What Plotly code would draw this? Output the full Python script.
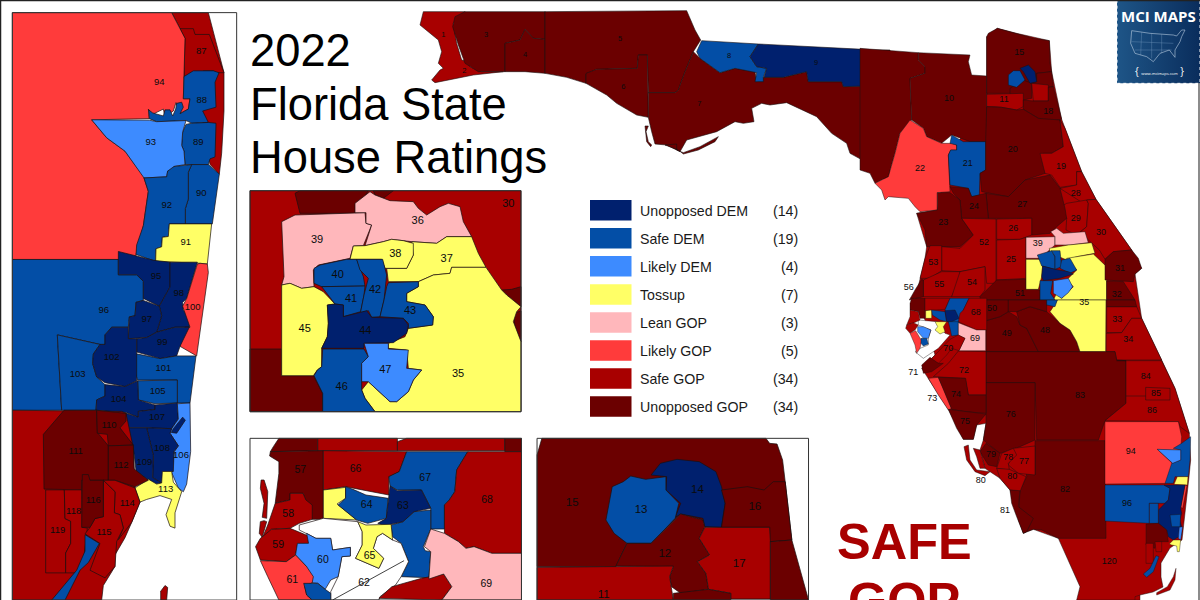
# 2022 Florida State House ratings map, outlines
import plotly.graph_objects as go

RATING_NAMES = ["Unopposed DEM", "Safe DEM", "Likely DEM", "Tossup", "Lean GOP", "Likely GOP", "Safe GOP", "Unopposed GOP"]
RATING_COUNTS = ["(14)", "(19)", "(4)", "(7)", "(3)", "(5)", "(34)", "(34)"]
RATING_KEYS = ["UD", "SD", "LD", "TU", "LN", "LG", "SG", "UG"]
RATING_COLORS = ["#00206e", "#034ea6", "#3d8bff", "#ffff66", "#ffb7bb", "#ff3b3b", "#a80000", "#6b0000"]
COLORS = dict(zip(RATING_KEYS, RATING_COLORS))
COLORS["WH"] = "#ffffff"

TITLE_LINES = ["2022", "Florida State", "House Ratings"]
CALLOUT_LINES = ["SAFE", "GOP"]

# each region is digitised in its own crop, (origin x, origin y, scale x, scale y)
LEFT_CROP = (0, 0, 3, 2.613)
ORLANDO_CROP = (240, 180, 3, 3)
LOWER_CROP = (240, 430, 2.7, 3)
PANHANDLE_CROP = (410, 0, 3, 3)
NORTH_CROP = (860, 0, 3, 3)
SOUTH_CROP = (820, 300, 3, 3)
TAMPA_CROP = (895, 270, 3, 3)
MIAMI_CROP = (1090, 420, 3, 3)
LOGO_CROP = (1110, 0, 3, 3)

LEFT_FRAME = "37,33 710,33 710,1568 37,1568"
LEFT_POLYS = [
    ("SG", "515,33 625,33 672,190 672,290 665,400 658,455 630,430 605,300 550,200 555,100"),
    ("SG", "555,100 540,75 580,75 585,90 628,90 655,150 672,190 650,190 640,185 610,185 600,195 595,220 580,205 552,200"),
    ("LG", "37,33 515,33 555,100 552,200 550,258 570,258 565,285 540,297 528,268 520,290 495,305 490,285 455,300 445,285 448,310 275,313 320,360 375,395 430,460 445,500 430,590 408,665 408,678 37,678"),
    ("SD", "552,200 580,185 640,185 657,190 645,215 648,280 608,290 625,320 575,322 558,315 470,318 448,310 446,287 458,295 490,303 495,287 510,287 518,303 527,285 530,270 545,267 550,280 540,297 565,285 570,258 550,258"),
    ("SD", "558,325 575,322 625,320 648,322 645,410 630,415 625,430 575,430 555,430 552,395 545,380 548,345"),
    ("LD", "275,313 448,314 470,318 558,315 548,345 545,380 552,395 555,430 522,435 520,445 503,447 500,462 432,465 375,395 320,360"),
    ("SD", "575,430 625,430 658,455 637,585 556,585 556,545 565,520 565,450"),
    ("SD", "432,465 500,462 503,447 522,435 575,430 565,450 565,520 556,545 556,585 508,585 505,618 487,620 485,645 468,650 467,683 408,665 410,640 430,590 445,500"),
    ("TU", "508,585 635,585 622,690 600,688 467,683 468,650 485,645 487,620 505,618"),
    ("SD", "37,678 355,678 355,718 410,718 430,735 430,785 408,790 405,825 388,828 385,855 335,855 315,875 315,900 300,900 172,875 185,1072 37,1072"),
    ("SD", "172,875 300,900 280,925 278,950 290,985 315,1005 315,1035 290,1045 288,1072 185,1072"),
    ("UD", "355,657 460,680 510,685 510,750 478,800 430,780 430,735 410,718 355,718"),
    ("UD", "510,685 592,685 560,780 548,790 550,810 570,835 568,855 525,855 470,868 485,825 478,800 510,750"),
    ("LG", "600,688 622,690 625,712 590,930 540,905 555,855 570,855 548,800 560,780 592,690"),
    ("UD", "408,790 430,785 478,800 485,825 470,868 440,882 385,885 388,828 405,825"),
    ("UD", "410,885 440,882 470,868 525,855 568,855 540,905 530,930 480,937 410,920"),
    ("SD", "395,922 480,937 530,930 588,930 570,1053 532,1053 532,993 413,993 395,950"),
    ("UD", "335,855 385,855 385,885 410,885 410,995 375,1010 315,1000 290,985 278,950 280,925 300,900 315,900 315,875"),
    ("SD", "413,995 532,993 532,1053 465,1055 415,1045"),
    ("UD", "315,1005 375,1010 413,995 415,1045 465,1058 465,1070 415,1075 415,1090 378,1078 288,1072 290,1045 315,1035"),
    ("UD", "378,1080 415,1090 415,1075 465,1070 465,1058 532,1053 535,1095 515,1120 440,1118 360,1118 378,1100"),
    ("LD", "532,1055 570,1053 572,1180 560,1265 550,1285 535,1275 515,1235 523,1180 535,1165 510,1132 515,1120 535,1095"),
    ("UD", "520,1120 548,1090 556,1098 530,1132 514,1130"),
    ("UD", "440,1118 515,1120 510,1132 535,1165 522,1180 520,1232 490,1233 485,1262 458,1248 460,1190"),
    ("UD", "360,1118 440,1118 460,1190 458,1248 485,1262 470,1265 445,1255 408,1230 400,1170"),
    ("SG", "37,1072 365,1075 378,1080 400,1170 405,1275 420,1312 395,1365 375,1405 345,1450 345,1480 310,1530 305,1568 37,1568"),
    ("TU", "405,1275 445,1252 470,1265 485,1262 487,1232 515,1232 520,1260 545,1285 525,1340 525,1380 510,1375 498,1345 515,1305 480,1295 440,1305 420,1312"),
    ("UG", "192,1072 290,1072 292,1130 325,1165 325,1255 245,1255 245,1280 132,1278 130,1135"),
    ("UG", "290,1072 378,1080 378,1100 360,1118 400,1163 325,1165 322,1135 292,1132"),
    ("UG", "325,1165 400,1163 402,1225 445,1255 405,1272 345,1255 325,1255"),
    ("SG", "137,1280 193,1280 195,1355 212,1362 212,1420 197,1445 197,1497 137,1497"),
    ("SG", "193,1280 245,1280 247,1378 262,1380 250,1470 235,1497 197,1497 197,1445 212,1420 212,1362 195,1355"),
    ("SG", "310,1255 345,1255 405,1275 420,1312 395,1365 355,1410 370,1380 360,1345 343,1340 345,1285"),
    ("SG", "285,1355 310,1350 310,1255 345,1285 343,1340 360,1345 370,1380 350,1415 345,1480 315,1510 270,1490 300,1420 255,1395 270,1378"),
    ("UG", "247,1240 265,1240 270,1255 310,1255 310,1350 285,1355 270,1378 245,1378"),
    ("SD", "255,1397 298,1420 265,1470 240,1490 195,1568 155,1568 230,1490 255,1440"),
    ("SG", "482,1545 495,1530 503,1535 500,1568 482,1568"),
]
LEFT_LABELS = [
    ("87", 604, 135), ("94", 478, 215), ("88", 605, 263), ("93", 452, 373), ("89", 595, 373), ("90", 604, 505),
    ("92", 500, 538), ("91", 557, 635), ("95", 468, 723), ("98", 536, 768), ("96", 311, 812), ("100", 578, 803),
    ("97", 440, 835), ("99", 487, 895), ("102", 335, 935), ("101", 490, 962), ("103", 233, 980), ("105", 473, 1023),
    ("104", 356, 1043), ("107", 471, 1092), ("110", 327, 1113), ("111", 227, 1180), ("108", 486, 1171), ("106", 543, 1190),
    ("109", 433, 1208), ("112", 363, 1216), ("113", 497, 1280), ("116", 280, 1308), ("114", 382, 1315), ("118", 221, 1337),
    ("119", 173, 1387), ("115", 312, 1392),
]

ORLANDO_FRAME = "30,32 843,32 843,695 30,695"
ORLANDO_POLYS = [
    ("SG", "30,32 843,32 843,695 30,695"),
    ("UG", "165,40 180,32 385,32 345,100 180,100"),
    ("UG", "400,32 460,32 430,55 405,45"),
    ("UG", "30,507 125,507 125,587 220,587 248,640 248,695 30,695"),
    ("UG", "785,330 815,328 843,320 843,380 800,345"),
    ("UG", "820,400 843,393 843,485 825,440"),
    ("LN", "125,125 165,105 375,98 378,130 395,135 370,197 340,198 330,235 235,255 220,270 222,320 185,325 150,310 125,315 132,290"),
    ("LN", "345,70 390,35 405,45 450,62 520,65 535,85 560,105 600,80 625,70 660,80 670,125 695,170 620,170 590,190 515,185 490,182 455,178 430,185 375,197 395,135 378,130 378,98 345,98"),
    ("TU", "515,185 590,190 620,170 695,170 715,220 738,262 635,262 630,280 580,285 535,305 445,305 440,265 500,265 520,225"),
    ("TU", "340,198 375,197 430,185 455,178 490,182 520,190 520,225 500,265 435,265 425,238 330,238"),
    ("TU", "635,262 738,262 785,330 800,345 843,380 830,395 820,425 843,485 843,695 405,695 375,655 365,630 385,605 450,665 470,665 505,635 520,600 545,570 505,565 500,510 445,505 445,490 495,470 505,445 578,435 580,410 555,375 500,365 500,340 535,320 535,305 580,285 630,280"),
    ("TU", "125,315 150,310 185,325 222,320 250,335 285,372 262,375 265,430 262,470 245,505 245,560 232,570 220,587 125,587"),
    ("SD", "222,265 240,255 320,238 350,238 370,290 375,318 245,320 222,310"),
    ("SD", "245,320 375,318 372,345 362,395 310,410 310,375 285,372"),
    ("SD", "350,238 428,238 440,285 432,360 420,410 395,412 385,392 365,397 362,395 372,345 385,295 360,270"),
    ("SD", "445,308 535,305 535,320 500,340 500,365 555,375 580,410 578,435 505,445 505,430 490,415 420,410 432,360 440,320"),
    ("UD", "262,375 285,372 310,375 310,410 362,397 380,392 395,412 490,415 505,435 500,460 460,488 372,490 372,505 245,505 262,470 265,430"),
    ("SD", "248,507 372,507 385,530 365,550 365,630 375,655 405,695 248,695 248,640 222,587 232,570 245,560"),
    ("LD", "372,490 445,490 445,507 505,510 500,565 545,570 520,600 505,635 470,665 450,665 385,605 365,605 365,550 385,530"),
]
ORLANDO_LABELS = [
    ("30", 805, 72), ("36", 533, 125), ("39", 231, 180), ("38", 466, 222), ("37", 620, 237), ("40", 293, 285),
    ("42", 405, 330), ("41", 333, 357), ("43", 510, 395), ("45", 194, 447), ("44", 376, 455), ("47", 436, 572),
    ("35", 654, 582), ("46", 305, 622),
]

PINELLAS_FRAME = "27,25 760,25 760,510 27,510"
PINELLAS_POLYS = [
    ("UG", "105,25 210,25 210,62 82,65 90,50"),
    ("SG", "210,25 425,25 425,62 210,62"),
    ("SG", "425,35 450,25 715,25 715,62 425,62"),
    ("UG", "715,25 760,25 760,65 715,65"),
    ("UG", "82,65 225,62 225,268 195,268 170,190 135,190 135,210 95,220 105,130 105,95 80,78"),
    ("SG", "225,62 450,65 430,125 402,140 402,195 285,170 225,180"),
    ("SD", "450,65 615,65 585,120 580,185 565,210 552,225 552,297 515,297 515,235 490,180 425,180 405,168 402,140 430,125"),
    ("SG", "615,65 760,65 760,370 680,370 632,350 610,355 590,335 552,310 552,225 565,210 580,185 585,120"),
    ("TU", "225,180 285,172 285,205 262,222 315,270 225,265"),
    ("SD", "285,170 305,178 340,195 400,205 395,265 345,280 315,270 265,225 285,205"),
    ("SD", "515,240 515,297 495,350 500,362 515,365 510,443 435,440 455,395 435,340 412,320 408,285 440,275 470,245"),
    ("UD", "405,168 425,182 490,180 515,235 470,245 440,275 410,282 400,290 372,280 395,265"),
    ("WH", "160,285 225,265 318,275 330,305 330,345 312,385 375,415 388,385 360,355 370,320 385,310 412,330 435,340 455,395 435,440 420,465 378,500 375,510 245,510 245,485 265,440 275,380 298,378 298,352 250,360 245,325 205,325 180,310 160,300"),
    ("TU", "318,275 340,285 408,283 412,330 385,310 370,320 360,355 388,385 375,415 312,385 330,345 330,305"),
    ("SG", "135,190 170,190 178,210 195,225 195,268 160,280 135,295 85,298 60,325 75,285 95,220 135,210"),
    ("SG", "57,150 65,150 75,185 73,230 72,265 60,262 65,220 55,175"),
    ("SG", "55,275 65,272 72,275 60,322 52,310"),
    ("SG", "85,298 135,295 185,318 185,340 155,345 150,375 125,395 55,390 42,350 55,325"),
    ("LD", "180,310 205,325 245,325 250,360 298,352 298,378 275,380 265,440 245,450 230,478 210,460 172,455 180,410 150,375 155,340 185,340"),
    ("LG", "55,392 125,395 150,375 180,410 198,440 195,458 175,470 180,495 195,510 105,510 75,440"),
    ("SD", "172,460 210,460 230,478 245,490 245,510 195,510 180,495"),
    ("SG", "375,505 410,470 490,445 550,432 572,470 545,510"),
    ("LN", "515,297 552,310 590,335 610,355 632,350 680,370 760,370 760,510 545,510 572,470 550,432 510,447 515,365 498,350"),
]
PINELLAS_LABELS = [
    ("57", 163, 122), ("66", 312, 118), ("67", 500, 145), ("64", 342, 225), ("63", 440, 228), ("68", 667, 212),
    ("58", 130, 252), ("59", 103, 347), ("65", 350, 380), ("60", 224, 390), ("61", 141, 450), ("62", 335, 460),
    ("69", 665, 462),
]
PINELLAS_LEADER = "250,510 443,392"

DUVAL_FRAME = "802,25 1535,25 1535,510 802,510"
DUVAL_POLYS = [
    ("UG", "802,75 815,25 1420,25 1430,40 1450,42 1465,90 1472,155 1490,330 1430,335 1430,292 1300,292 1255,290 1250,270 1190,252 1145,300 1110,340 1045,340 1015,410 802,410"),
    ("UD", "1110,135 1135,100 1180,88 1240,95 1285,125 1300,170 1310,220 1300,292 1255,290 1250,265 1190,252 1175,262 1190,220 1150,180 1152,140"),
    ("SD", "1005,170 1035,155 1055,138 1095,148 1150,140 1150,180 1185,220 1175,265 1145,300 1110,340 1045,340 1010,310 988,270 1000,205"),
    ("UG", "1300,180 1370,170 1415,180 1440,155 1472,155 1490,330 1430,335 1430,292 1300,292 1310,220"),
    ("UG", "1045,340 1110,340 1190,252 1250,270 1255,292 1240,325 1268,375 1235,395 1258,430 1265,478 1190,490 1165,470 1160,440 1170,410 1015,408"),
    ("SG", "1255,292 1430,292 1432,335 1432,507 1325,507 1325,490 1265,478 1258,430 1235,395 1268,375 1240,325"),
    ("SG", "802,412 1170,408 1160,440 1165,470 1170,510 802,510"),
    ("UG", "1170,490 1265,478 1325,490 1325,510 1170,510"),
    ("UG", "1432,335 1490,330 1535,510 1432,510"),
]
DUVAL_LABELS = [
    ("15", 897, 220), ("14", 1235, 180), ("13", 1083, 240), ("16", 1390, 232), ("12", 1147, 372), ("17", 1348, 402),
    ("11", 982, 495),
]

PANHANDLE_POLYS = [
    ("SG", "40,35 165,35 130,70 140,130 155,180 180,185 180,200 215,215 280,215 190,225 75,248 65,240 90,210 100,205 85,190 95,155 85,120 30,75"),
    ("UG", "165,35 405,35 405,118 370,115 345,88 330,120 285,130 285,215 205,215 165,190 145,135 128,80 135,50"),
    ("UG", "285,130 330,120 345,88 370,115 405,118 405,220 345,215 285,215"),
    ("UG", "405,35 830,32 855,90 872,120 850,155 825,215 805,270 795,278 715,278 712,165 685,165 682,205 560,208 528,222 528,250 470,232 405,220"),
    ("UG", "528,220 560,208 682,205 685,165 712,165 715,352 680,345 620,310 590,285 555,265 528,250"),
    ("UG", "850,155 870,175 905,200 930,218 975,205 1035,215 1040,245 1060,232 1120,232 1190,215 1195,245 1295,245 1300,260 1365,258 1380,225 1360,150 1440,150 1440,530 1425,540 1375,490 1320,460 1310,430 1265,400 1220,350 1130,308 1080,315 1055,310 1025,325 1032,365 1000,370 975,365 920,395 830,420 810,455 770,435 735,432 725,395 715,352 715,278 795,278 805,270 825,215"),
    ("UG", "705,378 715,378 708,395 715,425 725,435 722,440 710,425"),
    ("UG", "765,435 800,432 800,450 820,458 870,440 925,410 915,425 865,450 820,462 805,450"),
    ("SD", "875,122 1045,132 1020,170 1040,200 1070,205 1060,232 1060,245 1035,245 1040,218 975,205 930,218 905,200 870,175 860,155"),
    ("UD", "1045,132 1360,148 1385,215 1370,258 1300,260 1295,245 1195,245 1190,215 1120,232 1062,232 1070,205 1040,200 1020,170"),
]
PANHANDLE_LABELS = [
    ("1", 100, 105), ("2", 163, 212), ("3", 228, 105), ("4", 345, 165), ("5", 630, 118), ("6", 640, 260),
    ("7", 868, 312), ("8", 957, 168), ("9", 1218, 188),
]

PENINSULA_BASE = "380,110 412,85 470,100 568,122 575,215 605,358 665,515 708,598 815,750 845,805 825,822 845,955 905,1080 945,1165 988,1300 992,1380 987,1431 966,1620 930,1644 903,1689 903,1731 909,1761 879,1776 840,1785 825,1800 650,1800 660,1760 595,1615 520,1588 490,1600 450,1470 420,1435 390,1415 375,1405 360,1350 370,1320 378,1270 350,1275 340,1318 310,1318 265,1228 205,1135 185,1105 225,1065 195,960 165,900 180,835 195,775 200,740 170,640 232,630 265,460 380,320"
NORTH_POLYS = [
    ("SG", PENINSULA_BASE),
    ("UG", "0,145 175,158 175,180 195,200 195,220 150,235 155,360 120,400 105,460 85,530 45,550 30,520 0,510"),
    ("UG", "175,158 330,165 325,185 335,225 380,228 380,425 330,425 275,405 245,430 200,410 190,385 155,360 150,235 195,220 195,200 175,180"),
    ("LG", "150,360 190,385 200,410 245,430 275,430 290,435 290,450 272,450 265,465 270,575 232,578 232,630 180,635 165,620 145,595 85,590 75,600 65,570 45,550 85,530 105,460 120,400"),
    ("SD", "275,405 310,425 377,425 377,510 360,520 358,585 335,590 325,565 270,555 265,465 272,450 290,450 290,435 270,430"),
    ("UG", "380,110 385,100 412,85 470,100 520,115 568,122 570,190 575,215 530,220 530,245 510,250 490,240 470,262 450,280 380,280"),
    ("UG", "530,220 575,215 580,260 565,262 515,250 530,245"),
    ("UG", "450,265 490,240 515,250 515,295 490,300 450,282"),
    ("SD", "445,225 460,212 480,212 495,240 470,262 445,255"),
    ("UD", "480,205 505,195 525,215 530,245 510,250 490,215"),
    ("SG", "515,250 565,255 565,303 520,303"),
    ("SG", "380,283 450,282 490,280 490,320 470,330 425,322 405,320 380,320"),
    ("UG", "490,300 520,303 565,303 565,262 580,260 605,358 565,365 535,355 490,328"),
    ("UG", "380,320 425,322 470,330 490,328 535,355 600,360 610,440 575,460 550,460 555,520 495,540 445,590 365,575 360,520 377,510 377,425"),
    ("SG", "600,360 615,385 665,515 650,515 650,555 600,562 575,525 555,520 540,460 575,460 610,440"),
    ("SG", "650,515 665,515 708,598 680,600 670,610 600,565 650,555"),
    ("SG", "595,625 620,610 680,600 685,610 680,680 650,705 618,690 620,655"),
    ("SG", "680,600 708,598 815,750 760,755 735,778 718,750 680,715 650,705 680,680 685,610"),
    ("UG", "378,580 445,590 495,540 570,525 600,565 615,625 620,655 590,680 570,700 515,705 515,655 385,655"),
    ("UG", "270,560 325,565 335,590 358,585 378,580 385,655 305,655 300,600 280,580"),
    ("UG", "232,578 270,578 300,600 305,655 340,705 300,740 200,740 195,690 170,640 232,630"),
    ("SG", "305,655 408,657 408,850 380,850 375,800 300,815 245,812 245,740 300,745 340,705"),
    ("SG", "410,657 515,655 515,705 480,718 410,718"),
    ("SG", "410,720 480,718 498,712 498,835 410,840"),
    ("SG", "210,737 245,737 245,812 210,835 180,835 195,775"),
    ("SG", "190,840 245,815 300,815 300,840 275,890 190,890"),
    ("SG", "300,815 375,800 375,870 360,890 275,890"),
    ("UG", "360,890 410,840 498,838 498,865 540,870 540,900 360,900"),
    ("LN", "498,712 570,712 585,710 585,735 568,750 545,775 498,775"),
    ("LN", "572,695 590,685 610,700 675,695 685,728 630,735 585,735 585,710"),
    ("TU", "568,745 625,735 695,728 705,760 650,770 620,780 585,765 570,760"),
    ("TU", "498,778 545,778 548,795 545,830 535,868 498,868"),
    ("TU", "620,775 650,770 700,762 740,800 740,900 580,900 590,880 605,895 625,875 640,860 620,840 640,820 650,810 625,780"),
    ("SD", "532,765 575,752 585,770 585,808 545,798"),
    ("SD", "575,752 600,752 605,800 585,808 585,770"),
    ("SD", "605,780 630,775 650,810 630,820 600,805"),
    ("UD", "548,798 585,808 625,815 640,822 600,835 550,842 545,830"),
    ("SD", "540,842 578,842 572,880 585,900 540,900"),
    ("LD", "580,842 625,835 638,860 625,878 605,895 580,880"),
    ("UG", "735,778 760,755 815,750 835,775 845,805 825,822 820,845 735,840"),
    ("UG", "740,843 790,845 825,900 740,900"),
    ("UG", "185,838 190,840 190,890 148,900 165,870"),
]
NORTH_LABELS = [
    ("15", 478, 157), ("11", 432, 300), ("18", 565, 335), ("10", 267, 297), ("20", 458, 450), ("22", 180, 507),
    ("21", 323, 490), ("19", 603, 500), ("28", 647, 580), ("24", 342, 620), ("27", 487, 615), ("23", 250, 668),
    ("29", 647, 655), ("30", 723, 697), ("26", 460, 685), ("39", 533, 732), ("52", 372, 727), ("25", 453, 778),
    ("53", 220, 787), ("31", 780, 807), ("54", 336, 847), ("55", 238, 855), ("56", 146, 863), ("51", 480, 880),
    ("32", 770, 885),
]

SOUTH_POLYS = [
    ("SG", "860,20 950,20 965,55 935,55 905,98 860,98"),
    ("SG", "858,100 905,98 935,55 965,55 1025,180 890,180 885,155 858,155"),
    ("UG", "860,0 945,0 950,20 860,20"),
    ("UG", "498,62 540,50 565,35 590,50 600,75 620,85 655,155 498,155"),
    ("UG", "590,35 630,20 680,35 720,70 750,90 770,125 780,155 655,155 620,85 600,75"),
    ("UG", "498,0 565,0 565,35 540,50 498,62"),
    ("UG", "565,0 680,0 680,35 630,20 590,35 565,35"),
    ("TU", "700,20 712,0 858,0 857,155 780,155 770,125 750,90 720,70 690,35"),
    ("SD", "680,0 712,0 705,20 680,15"),
    ("UG", "498,155 885,155 890,180 918,182 918,310 855,362 835,420 650,420 645,248 498,248"),
    ("UG", "498,248 645,248 645,420 600,440 540,460 500,430 490,420 498,370"),
    ("SG", "340,230 370,205 385,190 415,153 498,155 498,285 445,285 435,235 355,232"),
    ("LG", "325,235 355,232 370,265 395,325 385,330 355,285"),
    ("UG", "355,232 437,235 445,285 498,285 498,340 435,335 395,328 370,265"),
    ("UG", "385,328 435,335 498,342 470,375 460,418 430,418 410,385"),
    ("UG", "645,422 855,422 858,715 715,715 665,690 640,688 620,695 610,700 595,660 600,570 620,530 615,490 645,525"),
    ("SG", "580,445 645,438 645,525 595,520 565,495"),
    ("SG", "545,460 580,445 590,465 565,490 568,510 530,505"),
    ("UG", "498,430 540,460 530,500 505,495 480,455"),
    ("SG", "530,505 568,508 595,520 618,530 600,575 570,570 540,535"),
    ("SG", "432,440 445,435 450,480 470,510 510,515 495,527 465,515 440,480"),
    ("SG", "460,445 480,450 495,505 480,505 470,470"),
    ("UG", "570,570 600,572 595,620 640,655 620,695 610,700 590,650 575,610"),
    ("SG", "890,182 1025,182 1065,265 1085,330 1108,400 1080,380 1075,365 855,362 918,310 918,182"),
    ("SG", "977,262 1050,265 1050,300 977,300"),
]
SOUTH_LABELS = [
    ("35", 793, 8), ("68", 467, 38), ("50", 516, 25), ("33", 892, 60), ("49", 560, 102), ("48", 675, 93),
    ("34", 925, 118), ("69", 465, 115), ("70", 385, 145), ("72", 432, 212), ("71", 280, 217), ("74", 408, 285),
    ("73", 337, 297), ("84", 977, 230), ("83", 780, 287), ("85", 1008, 282), ("86", 996, 332), ("76", 572, 344),
    ("75", 435, 365), ("94", 932, 455), ("79", 513, 465), ("78", 565, 472), ("77", 612, 485), ("80", 577, 530),
    ("80", 482, 543), ("82", 735, 568), ("96", 921, 610), ("81", 555, 633), ("120", 868, 785),
]
SOUTH_DIVIDER = "918,288 977,288"

TAMPA_POLYS = [
    ("UG", "50,85 90,85 90,145 75,145 70,125 45,120 45,100"),
    ("SG", "90,85 165,85 150,118 120,118 115,120 90,122"),
    ("SD", "165,85 222,85 205,120 195,150 190,195 170,195 170,175 160,155 150,120"),
    ("SG", "222,85 275,85 275,180 245,180 190,155 195,130 205,120"),
    ("TU", "92,122 110,120 110,145 92,145"),
    ("SD", "110,120 150,125 155,155 135,150 112,135"),
    ("UD", "150,122 180,120 192,145 170,155 155,155"),
    ("SD", "160,155 190,155 190,195 170,198 165,175"),
    ("WH", "70,150 125,155 150,190 165,195 130,235 85,265 60,245 75,235 100,225 100,205 108,180 85,170 70,165"),
    ("TU", "120,155 155,155 145,170 150,185 135,192 120,180 128,170"),
    ("LN", "190,158 245,180 272,180 272,242 192,242 210,205 190,195"),
    ("SG", "45,120 70,125 75,150 55,160 35,165 45,140"),
    ("SG", "35,165 55,158 70,165 60,180 45,190 32,175"),
    ("LD", "68,170 85,170 108,180 100,205 85,205 68,185"),
    ("LG", "45,190 62,182 80,212 75,235 65,250 60,225"),
    ("SD", "78,205 95,205 100,222 85,228 78,220"),
    ("SG", "130,245 165,208 190,195 210,205 192,242 170,235 155,255 130,280 105,270"),
    ("UG", "80,285 105,262 130,280 145,280 110,305 85,310"),
]

MIAMI_POLYS = [
    ("LG", "45,5 265,5 275,50 272,90 245,90 202,88 247,130 245,190 45,192"),
    ("SD", "45,195 222,195 240,205 235,240 225,250 178,250 178,310 45,303"),
    ("SD", "250,85 275,70 302,50 300,120 295,170 255,170 250,190 225,190 245,130 272,120 272,90"),
    ("LD", "202,88 272,90 272,120 250,130 248,130"),
    ("TU", "262,170 294,170 292,195 252,193"),
    ("LG", "285,195 291,197 278,265 272,262"),
    ("UD", "222,195 285,195 272,265 275,280 270,300 275,320 275,345 250,360 235,350 230,330 205,310 205,270 225,250 235,240 240,205"),
    ("SD", "240,285 272,283 270,320 245,320"),
    ("SD", "178,250 205,250 205,310 178,310"),
    ("LD", "268,322 278,320 272,360 265,355"),
    ("TU", "238,372 250,360 272,360 268,395 262,395 260,378 245,375"),
    ("UG", "168,312 205,310 230,330 235,365 200,365 195,385 168,375"),
    ("SG", "168,370 190,370 190,430 168,430"),
    ("SG", "195,365 215,365 215,395 198,395"),
    ("SD", "198,407 207,410 190,455 170,472 160,462 180,445"),
    ("SG", "258,445 255,480 240,510 200,525 200,518 232,500 250,470"),
    ("SG", "135,530 150,525 150,540 135,540"),
]

LOGO_BOX = "21,0 270,0 270,250 21,250"
LOGO_USA = "65,92 120,100 190,105 200,108 215,90 225,90 215,110 210,125 195,150 195,172 178,150 150,160 130,185 110,170 75,160 62,130"
LOGO_GRID = ["95,97 92,165", "125,100 125,175", "155,103 155,160", "65,125 190,130", "75,150 185,150"]


def crop_points(points, crop):
    x0, y0, sx, sy = crop
    xs, ys = [], []
    for pair in points.split():
        x, y = pair.split(",")
        xs.append(x0 + float(x) / sx)
        ys.append(y0 + float(y) / sy)
    return xs, ys


def add_polys(fig, polys, crop, width=0.7):
    for rating, points in polys:
        xs, ys = crop_points(points, crop)
        fig.add_trace(go.Scatter(x=xs + xs[:1], y=ys + ys[:1], mode="lines", fill="toself",
                                 fillcolor=COLORS[rating], line=dict(color="#1a1010", width=width),
                                 hoverinfo="skip", showlegend=False))


def add_frame(fig, frame, crop):
    xs, ys = crop_points(frame, crop)
    fig.add_trace(go.Scatter(x=xs + xs[:1], y=ys + ys[:1], mode="lines", line=dict(color="#333333", width=1),
                             hoverinfo="skip", showlegend=False))


def add_labels(fig, labels, crop, size):
    xs, ys = crop_points(" ".join(f"{x},{y}" for _, x, y in labels), crop)
    fig.add_trace(go.Scatter(x=xs, y=ys, mode="text", text=[t for t, _, _ in labels], textposition="middle center",
                             textfont=dict(family="Liberation Sans", size=size, color="#0b0b0b"),
                             hoverinfo="skip", showlegend=False))


fig = go.Figure()

# backing panels go first so the districts sit on white
for frame, crop in [(LEFT_FRAME, LEFT_CROP), (PINELLAS_FRAME, LOWER_CROP), (DUVAL_FRAME, LOWER_CROP)]:
    xs, ys = crop_points(frame, crop)
    fig.add_trace(go.Scatter(x=xs, y=ys, mode="lines", fill="toself", fillcolor="#ffffff", line=dict(width=0),
                             hoverinfo="skip", showlegend=False))

add_polys(fig, PANHANDLE_POLYS, PANHANDLE_CROP, 0.6)
add_polys(fig, NORTH_POLYS, NORTH_CROP, 0.5)
add_polys(fig, SOUTH_POLYS, SOUTH_CROP, 0.5)
add_polys(fig, TAMPA_POLYS, TAMPA_CROP, 0.4)
add_polys(fig, MIAMI_POLYS, MIAMI_CROP, 0.4)
add_polys(fig, LEFT_POLYS, LEFT_CROP)
add_polys(fig, ORLANDO_POLYS, ORLANDO_CROP)
add_polys(fig, PINELLAS_POLYS, LOWER_CROP)
add_polys(fig, DUVAL_POLYS, LOWER_CROP)

xs, ys = crop_points(PINELLAS_LEADER, LOWER_CROP)
fig.add_trace(go.Scatter(x=xs, y=ys, mode="lines", line=dict(color="#111111", width=0.8), hoverinfo="skip", showlegend=False))
xs, ys = crop_points(SOUTH_DIVIDER, SOUTH_CROP)
fig.add_trace(go.Scatter(x=xs, y=ys, mode="lines", line=dict(color="#1a1010", width=0.5), hoverinfo="skip", showlegend=False))

add_frame(fig, LEFT_FRAME, LEFT_CROP)
add_frame(fig, ORLANDO_FRAME, ORLANDO_CROP)
add_frame(fig, PINELLAS_FRAME, LOWER_CROP)
add_frame(fig, DUVAL_FRAME, LOWER_CROP)

add_labels(fig, LEFT_LABELS, LEFT_CROP, 9.5)
add_labels(fig, ORLANDO_LABELS, ORLANDO_CROP, 11)
add_labels(fig, PINELLAS_LABELS, LOWER_CROP, 10.5)
add_labels(fig, DUVAL_LABELS, LOWER_CROP, 11.5)
add_labels(fig, PANHANDLE_LABELS, PANHANDLE_CROP, 7.5)
add_labels(fig, NORTH_LABELS, NORTH_CROP, 9)
add_labels(fig, SOUTH_LABELS, SOUTH_CROP, 9)

# logo block, top right
xs, ys = crop_points(LOGO_BOX, LOGO_CROP)
fig.add_trace(go.Scatter(x=xs + xs[:1], y=ys + ys[:1], mode="lines", fill="toself",
                         fillgradient=dict(type="horizontal", colorscale=[[0, "#1e5587"], [1, "#0a2d5c"]]),
                         line=dict(color="#ffffff", width=1, dash="dot"), hoverinfo="skip", showlegend=False))
for piece in LOGO_GRID:
    xs, ys = crop_points(piece, LOGO_CROP)
    fig.add_trace(go.Scatter(x=xs, y=ys, mode="lines", line=dict(color="#6f95ba", width=0.4), hoverinfo="skip", showlegend=False))
xs, ys = crop_points(LOGO_USA, LOGO_CROP)
fig.add_trace(go.Scatter(x=xs + xs[:1], y=ys + ys[:1], mode="lines", line=dict(color="#b9cde0", width=0.6), hoverinfo="skip", showlegend=False))

shapes = []
annotations = []
ARIAL = "Liberation Sans"

# legend swatches and rows
legend_top = 200
legend_step = 28.05
for i, name in enumerate(RATING_NAMES):
    y = legend_top + i * legend_step
    shapes.append(dict(type="rect", x0=590, x1=631.5, y0=y, y1=y + 20.5, fillcolor=RATING_COLORS[i], line=dict(width=0), layer="above"))
    annotations.append(dict(x=638, y=y + 10.5, text=name, showarrow=False, xanchor="left", yanchor="middle",
                            font=dict(family=ARIAL, size=14.2, color="#1a1a1a")))
    annotations.append(dict(x=800, y=y + 10.5, text=RATING_COUNTS[i], showarrow=False, xanchor="right", yanchor="middle",
                            font=dict(family=ARIAL, size=14.2, color="#1a1a1a")))

for line, y in zip(TITLE_LINES, [50, 104, 157]):
    annotations.append(dict(x=248, y=y, text=line, showarrow=False, xanchor="left", yanchor="middle",
                            font=dict(family=ARIAL, size=45.3, color="#000000")))

for line, y in zip(CALLOUT_LINES, [541, 600]):
    annotations.append(dict(x=904, y=y, text=line, showarrow=False, xanchor="center", yanchor="middle",
                            font=dict(family=ARIAL, size=50.5, color="#a80000", weight="bold")))

annotations.append(dict(x=1158, y=15.5, text="MCI MAPS", showarrow=False, xanchor="center", yanchor="middle",
                        font=dict(family="Open Sans", size=15, color="#ffffff", weight="bold")))
annotations.append(dict(x=1159, y=71, text="{ <span style='font-size:4px'>www.mcimaps.com</span> }", showarrow=False,
                        xanchor="center", yanchor="middle", font=dict(family="Open Sans", size=10, color="#ffffff")))

# thin page border on the photographed edges
shapes.append(dict(type="line", x0=0, x1=1200, y0=0.5, y1=0.5, line=dict(color="#222222", width=1.5), layer="above"))
shapes.append(dict(type="line", x0=0.5, x1=0.5, y0=0, y1=600, line=dict(color="#222222", width=1.5), layer="above"))
shapes.append(dict(type="line", x0=1199, x1=1199, y0=83, y1=600, line=dict(color="#666666", width=1.5), layer="above"))

fig.update_layout(
    width=1200, height=600, margin=dict(l=0, r=0, t=0, b=0), autosize=False,
    paper_bgcolor="#ffffff", plot_bgcolor="#ffffff", showlegend=False,
    xaxis=dict(range=[0, 1200], visible=False, fixedrange=True),
    yaxis=dict(range=[600, 0], visible=False, fixedrange=True),
    shapes=shapes, annotations=annotations,
)

fig.write_html("out.html", config={"displayModeBar": False},
               post_script="document.body.style.margin='0';")
